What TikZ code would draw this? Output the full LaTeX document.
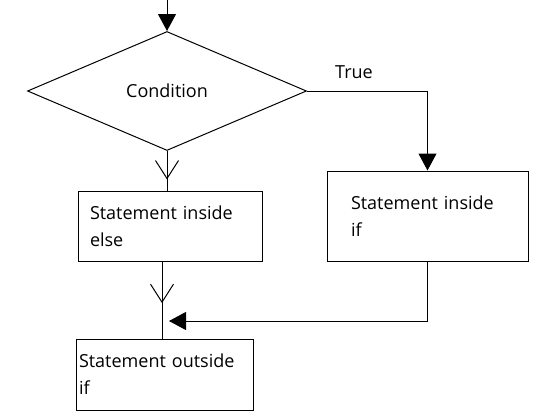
\documentclass[tikz,border=0pt]{standalone}
\usepackage{fontspec}
\setmainfont{Open Sans}
\usetikzlibrary{shapes.geometric, arrows.meta, decorations.markings}
\tikzset{
  box/.style={draw, line width=1pt, align=left, inner ysep=0pt,
    font=\fontsize{18}{27}\selectfont},
  decision/.style={draw, diamond, line width=1pt, inner sep=0pt,
    minimum width=279pt, minimum height=119pt, font=\fontsize{18}{20}\selectfont},
  solidhead/.style={line width=1pt, -{Triangle[length=17pt,width=18pt]}},
  midbarb/.style={line width=1pt, postaction={decorate},
    decoration={markings, mark=at position #1 with {\arrow{Straight Barb[length=18pt,width=23pt]}}}}
}

\begin{document}
\begin{tikzpicture}[x=1pt, y=-1pt]
  \useasboundingbox (0,0) rectangle (536,418);
  \def\Spine{162}  \def\Join{321}

  \node[decision] (cond) at (167,91) {Condition};
  \node[box, text width=160pt, inner xsep=12pt, minimum height=70pt] (else) at (170,226) {Statement inside\\else};
  \node[box, text width=153pt, inner xsep=24pt, minimum height=90pt] (ifbox) at (427.5,216) {Statement inside\\if};
  \node[box, text width=171pt, inner xsep=3pt, minimum height=71pt] (outside) at (164.5,374.5) {Statement outside\\if};
  \node[font=\fontsize{18}{20}\selectfont] (truelbl) at (354,72) {True};

  \coordinate (start) at (167,0);
  \coordinate (spine) at (\Spine,\Join);

  \draw[solidhead] (start) -- (cond.north);
  \draw[solidhead] (cond.east) -| (ifbox.north);
  \draw[midbarb=0.72] (cond.south) -- (cond.south |- else.north);
  \draw[midbarb=0.54] (else.south -| spine) -- (outside.north -| spine);
  \draw[solidhead, shorten >=7pt] (ifbox.south) |- (spine);
\end{tikzpicture}
\end{document}
